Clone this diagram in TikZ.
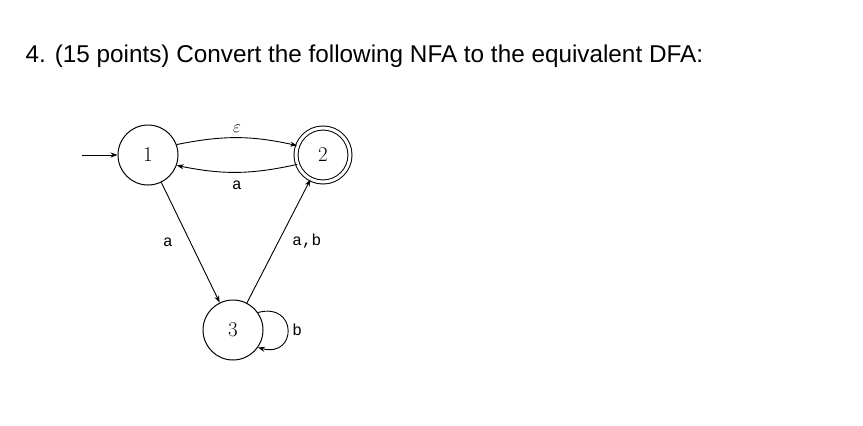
\documentclass[tikz,border=0pt]{standalone}
\usepackage{fontspec}
\newfontfamily\titlefont{Liberation Sans}
\newfontfamily\lblfont{Liberation Mono}
\usetikzlibrary{arrows.meta}
\begin{document}
\begin{tikzpicture}[x=1pt,y=-1pt,
  st/.style={circle,draw,line width=1pt,minimum size=60pt,inner sep=0pt,font=\fontsize{21}{21}\selectfont},
  acc/.style={st,double,double distance=3pt,minimum size=54pt},
  tr/.style={-{Stealth[length=7pt,width=5pt]},line width=0.9pt},
  lb/.style={font=\lblfont\fontsize{16}{16}\selectfont}]
\useasboundingbox (0,0) rectangle (863,426);
\node[anchor=base west,font=\titlefont\fontsize{24.3}{24}\selectfont] (title) at (22,62) {4. (15 points) Convert the following NFA to the equivalent DFA:};
\node[st] (q1) at (148,155) {1};
\node[acc] (q2) at (323,155) {2};
\node[st] (q3) at (233,330) {3};
\coordinate (init) at (82,155);
\draw[tr] (init) -- (q1);
\draw[tr] (q1.20) to[bend left=12] node[above=1pt,font=\fontsize{19}{19}\selectfont] {$\varepsilon$} (q2.160);
\draw[tr] (q2.200) to[bend left=12] node[below=5pt,lb] {a} (q1.340);
\draw[tr] (q1) -- node[left=14pt,lb] {a} (q3);
\draw[tr] (q3) -- node[right=10pt,lb] {a,b} (q2);
\draw[tr] (q3.35) to[out=15,in=-15,looseness=3] node[right=1pt,lb] {b} (q3.-35);
\end{tikzpicture}
\end{document}
